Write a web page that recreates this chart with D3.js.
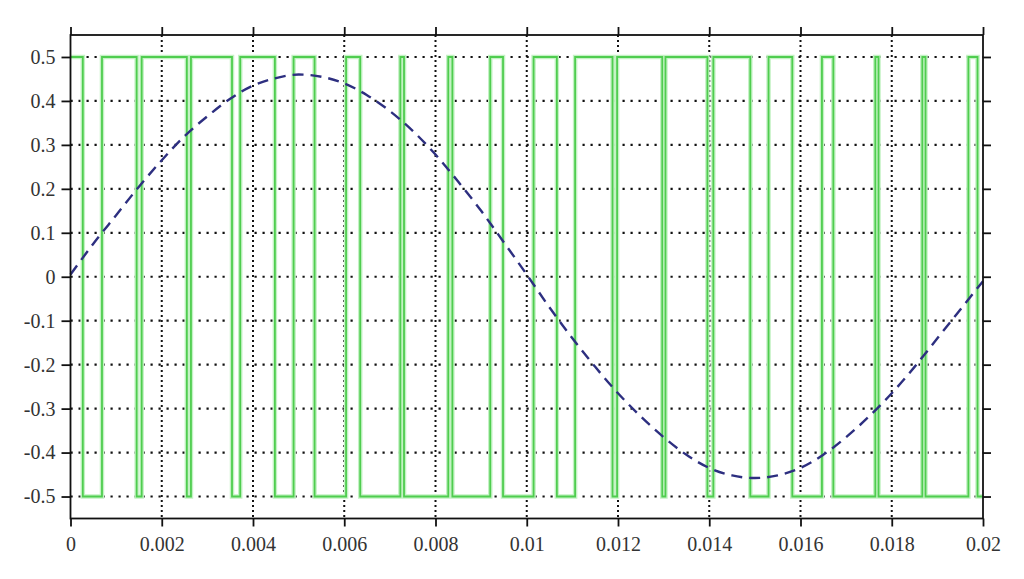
<!DOCTYPE html>
<html>
<head>
<meta charset="utf-8">
<script src="https://cdn.jsdelivr.net/npm/d3@7/dist/d3.min.js"></script>
<style>
  html, body { margin: 0; padding: 0; background: #fff; }
  svg { display: block; }
</style>
</head>
<body>
<svg id="chart" width="1024" height="579"></svg>
<script>
// ---- data ----
const xTicks = [0, 0.002, 0.004, 0.006, 0.008, 0.01, 0.012, 0.014, 0.016, 0.018, 0.02];
const xTickLabels = ["0", "0.002", "0.004", "0.006", "0.008", "0.01", "0.012", "0.014", "0.016", "0.018", "0.02"];
const yTicks = [0.5, 0.4, 0.3, 0.2, 0.1, 0, -0.1, -0.2, -0.3, -0.4, -0.5];
const yTickLabels = ["0.5", "0.4", "0.3", "0.2", "0.1", "0", "-0.1", "-0.2", "-0.3", "-0.4", "-0.5"];

// PWM switching instants (s) and the level held from each instant on
const pwmTimes = [0, 0.00027, 0.00069, 0.00145, 0.00156, 0.00255, 0.00264, 0.00354, 0.00372,
  0.00448, 0.00489, 0.00535, 0.00604, 0.00635, 0.00723, 0.00731, 0.00828, 0.00837, 0.00920,
  0.00948, 0.01015, 0.01066, 0.01106, 0.01188, 0.01198, 0.01297, 0.01304, 0.01396, 0.01409,
  0.01490, 0.01530, 0.01582, 0.01647, 0.01672, 0.01764, 0.01771, 0.01867, 0.01874, 0.01968,
  0.01988, 0.02];
const pwmLevels = [0.5, -0.5, 0.5, -0.5, 0.5, -0.5, 0.5, -0.5, 0.5,
  -0.5, 0.5, -0.5, 0.5, -0.5, 0.5, -0.5, 0.5, -0.5, 0.5,
  -0.5, 0.5, -0.5, 0.5, -0.5, 0.5, -0.5, 0.5, -0.5, 0.5,
  -0.5, 0.5, -0.5, 0.5, -0.5, 0.5, -0.5, 0.5, -0.5, 0.5,
  -0.5, -0.5];

// reference (dashed) waveform
const refTimes = [0, 0.0005, 0.001, 0.0015, 0.002, 0.0025, 0.003, 0.0035, 0.004, 0.0045,
  0.005, 0.0055, 0.006, 0.0065, 0.007, 0.0075, 0.008, 0.0085, 0.009, 0.0095,
  0.01, 0.0105, 0.011, 0.0115, 0.012, 0.0125, 0.013, 0.0135, 0.014, 0.0145,
  0.015, 0.0155, 0.016, 0.0165, 0.017, 0.0175, 0.018, 0.0185, 0.019, 0.0195, 0.02];
const refValues = [0.005, 0.075, 0.14, 0.205, 0.265, 0.32, 0.365, 0.405, 0.435, 0.452,
  0.46, 0.455, 0.44, 0.413, 0.377, 0.332, 0.278, 0.216, 0.15, 0.078,
  0.005, -0.07, -0.14, -0.205, -0.265, -0.318, -0.365, -0.405, -0.435, -0.452,
  -0.458, -0.452, -0.435, -0.405, -0.365, -0.318, -0.265, -0.205, -0.14, -0.075, -0.01];

// ---- layout ----
const svg = d3.select("#chart");
const pL = 70.5, pR = 983, pT = 35, pB = 518.5;
const x = d3.scaleLinear().domain([0, 0.02]).range([pL, pR]);
const y = d3.scaleLinear().domain([-0.55, 0.55]).range([pB, pT]);
const font = "'Liberation Serif', 'Times New Roman', serif";

// grid
const grid = svg.append("g");
grid.selectAll("line.h").data(yTicks).enter().append("line")
  .attr("x1", pL).attr("x2", pR)
  .attr("y1", d => y(d)).attr("y2", d => y(d))
  .attr("stroke", "#111").attr("stroke-width", 2.2)
  .attr("stroke-dasharray", "2.2,5.8");
grid.selectAll("line.v").data(xTicks.slice(1, -1)).enter().append("line")
  .attr("y1", pT).attr("y2", pB)
  .attr("x1", d => x(d)).attr("x2", d => x(d))
  .attr("stroke", "#111").attr("stroke-width", 2)
  .attr("stroke-dasharray", "2,3");

// PWM
const pwmData = pwmTimes.map((t, i) => [t, pwmLevels[i]]);
const stepLine = d3.line().x(d => x(d[0])).y(d => y(d[1])).curve(d3.curveStepAfter);
svg.append("path").attr("d", stepLine(pwmData))
  .attr("fill", "none").attr("stroke", "#c4f2c4").attr("stroke-width", 4.5)
  .attr("stroke-linejoin", "miter");
svg.append("path").attr("d", stepLine(pwmData))
  .attr("fill", "none").attr("stroke", "#4fcd4f").attr("stroke-width", 1.8)
  .attr("stroke-linejoin", "miter");

// reference wave
const refData = refTimes.map((t, i) => [t, refValues[i]]);
const smooth = d3.line().x(d => x(d[0])).y(d => y(d[1])).curve(d3.curveMonotoneX);
svg.append("path").attr("d", smooth(refData))
  .attr("fill", "none").attr("stroke", "#2d2f80").attr("stroke-width", 2.4)
  .attr("stroke-dasharray", "11,7");

// frame
svg.append("rect").attr("x", pL).attr("y", pT)
  .attr("width", pR - pL).attr("height", pB - pT)
  .attr("fill", "none").attr("stroke", "#111").attr("stroke-width", 1.8);

// axes (ticks pointing outward)
const axB = d3.axisBottom(x).tickValues(xTicks).tickSize(8).tickFormat((d, i) => xTickLabels[i]).tickPadding(10);
const axT = d3.axisTop(x).tickValues(xTicks).tickSize(8).tickFormat("");
const axL = d3.axisLeft(y).tickValues(yTicks).tickSize(9).tickFormat((d, i) => yTickLabels[i]).tickPadding(6);
const axR = d3.axisRight(y).tickValues(yTicks).tickSize(8).tickFormat("");

function style(g) {
  g.select(".domain").remove();
  g.selectAll(".tick line").attr("stroke", "#111").attr("stroke-width", 1.8);
  g.selectAll(".tick text").attr("fill", "#333").style("font-family", font).style("font-size", "20px");
}
svg.append("g").attr("transform", `translate(0,${pB})`).call(axB).call(style);
svg.append("g").attr("transform", `translate(0,${pT})`).call(axT).call(style);
svg.append("g").attr("transform", `translate(${pL},0)`).call(axL).call(style);
svg.append("g").attr("transform", `translate(${pR},0)`).call(axR).call(style);
</script>
</body>
</html>
